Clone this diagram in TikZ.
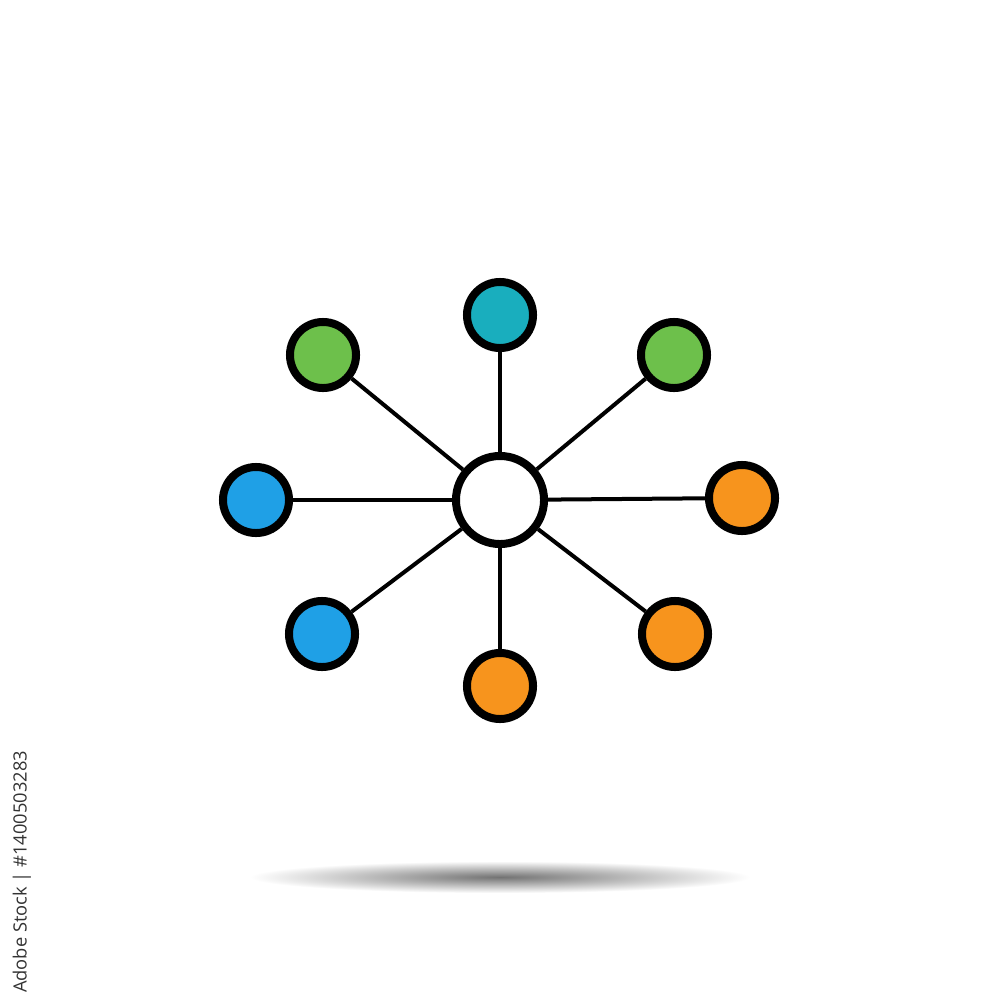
\documentclass[tikz,border=0pt]{standalone}
\usepackage{fontspec}
\newfontfamily\stockfont{Open Sans}
\definecolor{cteal}{HTML}{19AEBE}
\definecolor{cgreen}{HTML}{6DC04B}
\definecolor{cblue}{HTML}{1FA0E6}
\definecolor{corange}{HTML}{F7941D}
\begin{document}
\begin{tikzpicture}[x=0.01cm,y=-0.01cm,
  leaf/.style={circle,draw=black,line width=0.08cm,minimum size=0.66cm,inner sep=0pt},
  hub/.style={circle,draw=black,fill=white,line width=0.08cm,minimum size=0.88cm,inner sep=0pt},
  spoke/.style={draw=black,line width=0.04cm}]
\useasboundingbox[fill=white] (0,0) rectangle (1000,1000);
% shadow
\shade[inner color=black!55,outer color=white] (500,877) ellipse (250 and 16);
% nodes
\node[hub] (c) at (500,500) {};
\node[leaf,fill=cteal] (n) at (500,315) {};
\node[leaf,fill=cgreen] (ne) at (674,355) {};
\node[leaf,fill=corange] (e) at (742,498) {};
\node[leaf,fill=corange] (se) at (675,634) {};
\node[leaf,fill=corange] (s) at (500,686) {};
\node[leaf,fill=cblue] (sw) at (322,634) {};
\node[leaf,fill=cblue] (w) at (256,500) {};
\node[leaf,fill=cgreen] (nw) at (323,355) {};
\foreach \t in {n,ne,e,se,s,sw,w,nw}{\draw[spoke] (c) -- (\t);}
% side text
\node[rotate=90,anchor=center,text=black!80,font=\stockfont\fontsize{5.2pt}{6pt}\selectfont] (stock) at (22,872) {Adobe Stock | \#1400503283};
\end{tikzpicture}
\end{document}
